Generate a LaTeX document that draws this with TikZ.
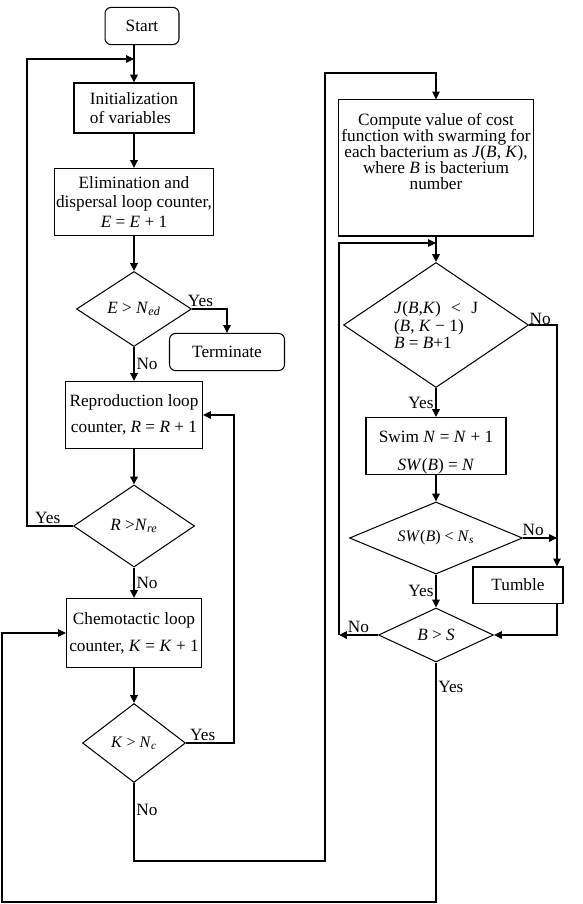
\documentclass[tikz,border=0pt]{standalone}
\usepackage{fontspec}
\setmainfont{Liberation Serif}
\usetikzlibrary{shapes.geometric,arrows.meta}

\tikzset{
  block/.style={draw, rectangle, line width=0.6pt, inner sep=1pt, align=center},
  startstop/.style={block, rounded corners=3.5pt},
  decision/.style={draw, diamond, line width=0.6pt, inner sep=0pt, aspect=1.5, align=center},
  flow/.style={line width=0.9pt, -{Triangle[length=4.6pt,width=4.4pt]}},
  wire/.style={line width=0.7pt, -{Triangle[length=4.6pt,width=4.4pt]}},
  lab/.style={inner sep=1pt}
}

\begin{document}
\begin{tikzpicture}[x=0.58pt,y=-0.58pt,font=\fontsize{10}{11.3}\selectfont]
\useasboundingbox (0,0) rectangle (582,904);

% left column
\node[startstop, minimum width=42.9pt, minimum height=21.5pt] (start) at (142,26) {Start};
\node[block, align=left, minimum width=69.6pt, minimum height=29pt] (init) at (134,108) {Initialization\\of variables};
\node[block, minimum width=92.2pt, minimum height=38.9pt] (elim) at (134,202) {Elimination and\\dispersal loop counter,\\\textit{E} = \textit{E} + 1};
\node[decision, minimum width=66.7pt, minimum height=43.5pt] (dE) at (134,309) {\textit{E} > \textit{N}\textsubscript{\textit{ed}}};
\node[startstop, minimum width=66.7pt, minimum height=21.5pt] (term) at (227,352) {Terminate};
\node[block, minimum width=79.5pt, minimum height=38.9pt] (repro) at (134,415) {Reproduction loop\\[3.5pt]counter, \textit{R} = \textit{R} + 1};
\node[decision, minimum width=70.2pt, minimum height=47.6pt] (dR) at (134,526) {\textit{R} >\textit{N}\textsubscript{\textit{re}}};
\node[block, minimum width=78.3pt, minimum height=40pt] (chemo) at (134,633) {Chemotactic loop\\[4.3pt]counter, \textit{K} = \textit{K} + 1};
\node[decision, minimum width=59.7pt, minimum height=45.8pt, font=\fontsize{9.3}{11}\selectfont] (dK) at (134,743) {\textit{K} > \textit{N}\textsubscript{\textit{c}}};

% right column
\node[block, inner sep=0pt] (compute) at (436,168) {\begin{minipage}[t][78.9pt][t]{113.1pt}\centering\fontsize{10}{9.3}\selectfont\vspace*{7.5pt}Compute value of cost\\function with swarming for\\each bacterium as \textit{J}(\textit{B}, \textit{K}),\\where \textit{B} is bacterium\\number\end{minipage}};
\node[decision, align=left, minimum width=107.3pt, minimum height=72.5pt, font=\fontsize{10}{8.7}\selectfont] (dJ) at (436,325) {\textit{J}(\textit{B},\textit{K})\hspace{0.6em}<\hspace{0.6em}J\\(\textit{B}, \textit{K} − 1)\\\textit{B} = \textit{B}+1};
\node[block, inner ysep=0pt, minimum width=81.2pt, minimum height=33.1pt] (swim) at (436,446) {\rule{0pt}{14.5pt}Swim \textit{N} = \textit{N} + 1\\[4.9pt]\textit{SW}(\textit{B}) = \textit{N}};
\node[decision, minimum width=100.3pt, minimum height=41.8pt, font=\fontsize{9.3}{11}\selectfont] (dSW) at (436,538) {\textit{SW}(\textit{B}) < \textit{N}\textsubscript{\textit{s}}};
\node[block, minimum width=52.2pt, minimum height=20.9pt] (tumble) at (518,585) {Tumble};
\node[decision, minimum width=66.7pt, minimum height=31.3pt] (dS) at (436,635) {\textit{B} > \textit{S}};

\coordinate (jE) at (134,59);
\coordinate (jB) at (436,243);
\coordinate (rl) at (557,324);

% left connectors
\draw[flow] (start.south -| init.north) -- (init.north);
\draw[flow] (init.south) -- (elim.north);
\draw[flow] (elim.south) -- (dE.north);
\draw[wire] (dE.east) -| node[lab, pos=0.12, above] {Yes} (term.north);
\draw[flow] (dE.south) -- node[lab, right] {No} (repro.north);
\draw[flow] (repro.south) -- (dR.north);
\draw[wire] (dR.west) -- node[lab, above, pos=0.55] {Yes} ++(-46,0) |- (jE);
\draw[flow] (dR.south) -- node[lab, right] {No} (chemo.north);
\draw[flow] (chemo.south) -- (dK.north);
\draw[wire] (dK.east) -- node[lab, above, pos=0.35] {Yes} ++(48,0) |- (repro.east);
\draw[wire] (dK.south) |- node[lab, right, pos=0.17] {No} (325,861) |- (436,73) -- (compute.north);

% right connectors
\draw[flow] (compute.south) -- (dJ.north);
\draw[wire] (dJ.east) -| node[lab, anchor=south west, pos=0, inner sep=0pt] {No} (tumble.north -| rl);
\draw[flow] (dJ.south) -- node[lab, left] {Yes} (swim.north);
\draw[flow] (swim.south) -- (dSW.north);
\draw[wire] (dSW.east) -- node[lab, above, pos=0.3] {No} (dSW.east -| rl);
\draw[flow] (dSW.south) -- node[lab, left] {Yes} (dS.north);
\draw[wire] (tumble.south -| rl) |- (dS.east);
\draw[wire] (dS.west) -- node[lab, above, pos=0.5] {No} ++(-39,0) coordinate (cL);
\draw[wire] (cL) |- (jB);
\draw[wire] (dS.south) |- node[lab, right, pos=0.05] {Yes} (2,902) |- (chemo.west);
\end{tikzpicture}
\end{document}
